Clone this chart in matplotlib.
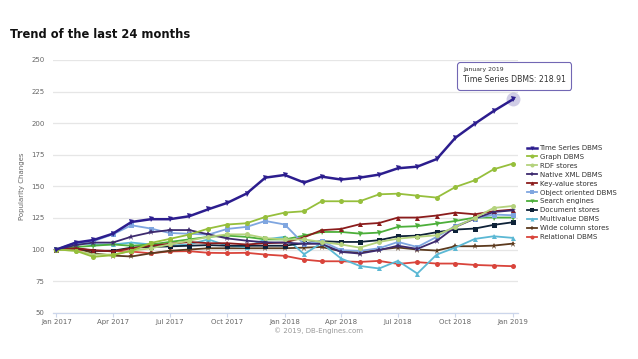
import matplotlib
matplotlib.use("Agg")
import matplotlib.pyplot as plt
import matplotlib.dates as mdates
from matplotlib.offsetbox import TextArea, VPacker, AnnotationBbox
import numpy as np
import datetime as dt

plt.rcParams['font.family'] = ['DejaVu Sans']

months = [dt.date(2017 + (i // 12), i % 12 + 1, 1) for i in range(25)]

series_names = ["Time Series DBMS", "Graph DBMS", "RDF stores", "Native XML DBMS",
                "Key-value stores", "Object oriented DBMS", "Search engines",
                "Document stores", "Multivalue DBMS", "Wide column stores", "Relational DBMS"]

time_series = [100, 105.5, 107.5, 112.5, 121.8, 124, 124, 126.3, 131.9, 136.9, 144.3, 156.9,
               159, 153, 157.7, 155.4, 156.9, 159.3, 164.3, 165.6, 171.6, 188.5, 199.6, 209.6, 218.91]
graph = [100, 99, 94.2, 95.5, 99, 105.2, 108.4, 111.8, 116.6, 119.8, 120.8, 125.8,
         129.2, 130.3, 138.2, 138.2, 138.2, 143.7, 144.2, 142.6, 141.1, 149.5, 154.8, 163.5, 168]
rdf = [100, 99, 96, 96, 99, 101, 104, 107, 110, 112, 112, 109,
       108, 108, 106, 104, 101.5, 106, 108.6, 110, 111.3, 118, 125, 132.9, 134.5]
native_xml = [100, 103.5, 105.5, 105.5, 110.2, 113.6, 115.4, 115.4, 112, 108.8, 107, 105.7,
              105.5, 104.5, 104.5, 98.1, 96.8, 99.5, 103, 100.5, 106.8, 117.9, 124.5, 129.7, 131]
key_value = [100, 101, 99.5, 98.5, 101, 103, 104.5, 106, 105, 105, 104, 105,
             105.5, 109.7, 115.3, 116.3, 120, 121, 125.3, 125.3, 126.9, 129.2, 127.9, 130.3, 131.6]
object_oriented = [100, 105, 106.6, 112, 119.2, 116.6, 113.1, 112.5, 111.8, 116.3, 117.9, 122.6,
                   119.8, 104.2, 106.6, 99.5, 98.9, 101, 106, 102, 110, 118.7, 124.5, 127.7, 127.1]
search = [100, 102, 103, 104, 103, 104, 106, 108, 110, 111, 110, 108,
          108, 111, 113.9, 113.9, 112.6, 113.4, 117.9, 118.5, 120.5, 122.6, 125.3, 125.3, 125.3]
document = [100, 101, 99, 99, 101.5, 102, 102.5, 103, 103.5, 103, 103, 103,
            103, 105, 106.6, 106, 106, 107.4, 110.5, 111, 113.7, 115.8, 116.6, 119.5, 121.6]
multivalue = [100, 105.5, 104, 104, 105.5, 104, 103, 104, 108, 103, 102, 108,
              110, 96.3, 105.2, 92.9, 87, 85, 91, 81, 96, 101.6, 108.4, 110.5, 109.2]
wide_column = [100, 101.5, 97, 95.2, 94.5, 97, 99, 100, 101, 101, 101, 101,
               101, 101.5, 102, 98.7, 97.6, 100, 101.6, 100, 99.2, 102.6, 102.6, 103.1, 104.7]
relational = [100, 99.5, 99, 99, 98.4, 97, 98.5, 98.7, 97.4, 97.2, 97.4, 96,
              95, 92, 90.7, 90.7, 90.2, 91, 88.6, 90, 88.9, 88.9, 87.8, 87.3, 86.8]

values = [time_series, graph, rdf, native_xml, key_value, object_oriented, search,
          document, multivalue, wide_column, relational]
colors = ["#2c1d8e", "#96bf3c", "#b4d27c", "#3d2a6e", "#8b1c1c", "#7fa6e0", "#4caf3a",
          "#0e2238", "#5bb8d4", "#5c3a1e", "#d9443b"]
markers = ["v", "o", "o", "*", "^", "s", "v", "s", "^", "*", "o"]

fig = plt.figure(figsize=(6.38, 3.59), dpi=100)
ax = fig.add_axes([53 / 638, 1 - 312.7 / 359, (518 - 53) / 638, (312.7 - 60) / 359])

n = len(series_names)
for i, (name, vals, c, m) in enumerate(zip(series_names, values, colors, markers)):
    lw = 1.8 if i == 0 else 1.3
    ms = 3.6 if m != "*" else 4.5
    ax.plot(months, vals, color=c, lw=lw, marker=m, ms=ms, markeredgewidth=0,
            label=name, zorder=20 if i == 0 else 3 + (n - i), clip_on=False)

ax.set_ylim(50, 250)
ax.set_yticks(np.arange(50, 251, 25))
x0 = mdates.date2num(dt.date(2017, 1, 1))
x1 = mdates.date2num(dt.date(2019, 1, 1))
ax.set_xlim(x0 - 5.5, x1 + 8)
xt = [dt.date(2017 + (i // 12), i % 12 + 1, 1) for i in range(0, 25, 3)]
ax.set_xticks(xt)
ax.set_xticklabels([d.strftime("%b %Y") for d in xt])

ax.grid(axis='y', color='#e6e6e6', lw=0.9)
ax.set_axisbelow(True)
for s in ['top', 'right', 'left']:
    ax.spines[s].set_visible(False)
ax.spines['bottom'].set_color('#ccd6eb')
ax.spines['bottom'].set_linewidth(0.9)
ax.tick_params(axis='y', length=0, labelsize=5, labelcolor='#666666', pad=6)
ax.tick_params(axis='x', length=3, color='#ccd6eb', labelsize=5, labelcolor='#666666', pad=1.5)
ax.set_ylabel("Popularity Changes", fontsize=5, color='#666666', va='center')
ax.yaxis.set_label_coords((22 - 53) / 465, 0.5)

fig.text(10 / 638, 1 - 35 / 359, "Trend of the last 24 months", fontsize=8.3,
         fontweight='bold', color='#111111', va='center', ha='left')
fig.text(318 / 638, 1 - 331 / 359, "\u00a9 2019, DB-Engines.com", fontsize=5,
         color='#999999', ha='center', va='center')

leg = ax.legend(loc='upper left', bbox_to_anchor=(527 / 638, 1 - 145 / 359),
                bbox_transform=fig.transFigure, frameon=False, fontsize=5,
                handlelength=1.4, handletextpad=0.4, labelspacing=0.42,
                borderpad=0, borderaxespad=0, markerscale=0.8)
for t in leg.get_texts():
    t.set_color('#333333')

# tooltip
px, py = months[-1], time_series[-1]
ax.plot([px], [py], 'o', ms=10, color=colors[0], alpha=0.22, zorder=19,
        markeredgewidth=0, clip_on=False)
t1 = TextArea("January 2019", textprops=dict(fontsize=4.4, color='#333333'))
t2 = TextArea("Time Series DBMS: 218.91", textprops=dict(fontsize=5.6, color='#333333'))
pack = VPacker(children=[t1, t2], align='left', pad=0, sep=2)
ab = AnnotationBbox(pack, (mdates.date2num(px), py), xybox=(1, 17), xycoords='data',
                    boxcoords='offset points', frameon=True, pad=0.4,
                    bboxprops=dict(boxstyle='round,pad=0.4,rounding_size=0.2',
                                   facecolor='white', edgecolor='#6a5fb0', lw=0.8, alpha=0.95),
                    zorder=30)
ax.add_artist(ab)

fig.savefig("out.png", dpi=100)
